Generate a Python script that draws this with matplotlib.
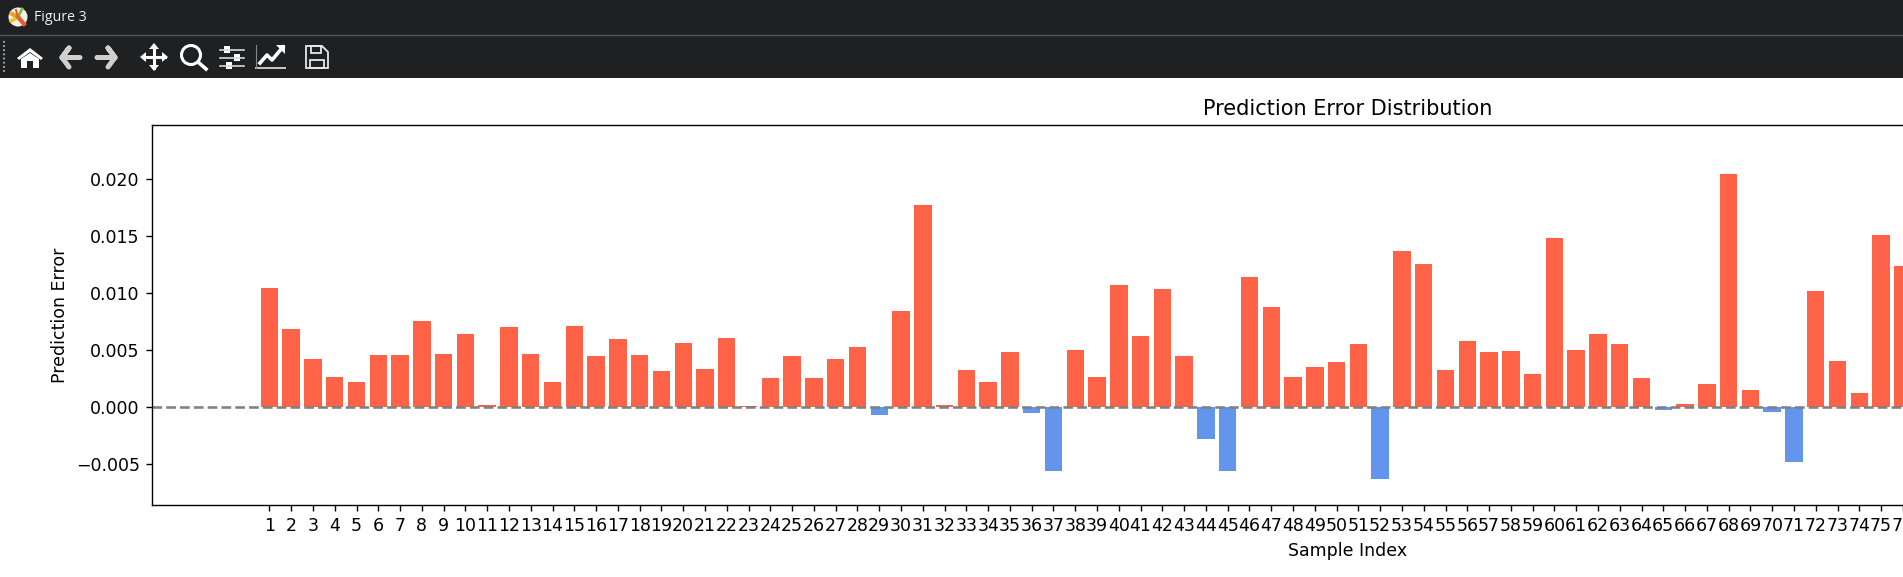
import matplotlib
matplotlib.use('Agg')
import matplotlib.pyplot as plt
from matplotlib.patches import Circle, Polygon, Rectangle

W, H = 1903, 577

# sample 1..76, the rest of the axes runs off the right of the window
samples = list(range(1, 77))
errors = [
    0.01047, 0.00688, 0.00423, 0.00268, 0.00223, 0.00459, 0.00459, 0.00759, 0.00469, 0.00643,
    0.00019, 0.00704, 0.00469, 0.00223, 0.00714, 0.00452, 0.00601, 0.00459, 0.00319, 0.00565,
    0.00336, 0.00609, 0.00012, 0.00257, 0.00451, 0.00257, 0.00424, 0.00530, -0.00072, 0.00846,
    0.01776, 0.00020, 0.00328, 0.00222, 0.00486, -0.00055, -0.00564, 0.00503, 0.00266, 0.01074,
    0.00626, 0.01039, 0.00451, -0.00283, -0.00564, 0.01144, 0.00881, 0.00266, 0.00354, 0.00398,
    0.00556, -0.00634, 0.01372, 0.01258, 0.00328, 0.00582, 0.00486, 0.00494, 0.00293, 0.01486,
    0.00503, 0.00644, 0.00556, 0.00257, -0.00028, 0.00029, 0.00205, 0.02048, 0.00152, -0.00046,
    -0.00485, 0.01021, 0.00407, 0.00126, 0.01513, 0.01241,
]
yticks = [-0.005, 0.0, 0.005, 0.010, 0.015, 0.020]

bar_colors = ['tomato' if e >= 0 else 'cornflowerblue' for e in errors]

fig = plt.figure(figsize=(W / 100, H / 100), dpi=100, facecolor='white')

# axes is wider than the window, same as the cropped screenshot
ax = fig.add_axes([152 / W, 1 - 505 / H, 2391 / W, (505 - 125) / H])
ax.bar(samples, errors, color=bar_colors, width=0.8)
ax.axhline(0, color='gray', linestyle='--', linewidth=1.875)
ax.set_xlim(-4.39, 105.39)
ax.set_ylim(-0.00859, 0.02476)
ax.set_xticks(samples)
ax.set_xticklabels([str(s) for s in samples])
ax.set_yticks(yticks)
ax.tick_params(labelsize=12.5, width=1.0, length=4.4, pad=4.4)
for s in ax.spines.values():
    s.set_linewidth(1.0)
ax.set_xlabel('Sample Index', fontsize=12.5, labelpad=5)
ax.set_ylabel('Prediction Error', fontsize=12.5, labelpad=5)
ax.set_title('Prediction Error Distribution', fontsize=15, pad=7.5)

# window chrome, in pixel coordinates
ui = fig.add_axes([0, 0, 1, 1], zorder=5)
ui.set_xlim(0, W)
ui.set_ylim(H, 0)
ui.axis('off')
ui.patch.set_alpha(0)

dark = '#1f2022'
icon = '#ffffff'
ui.add_patch(Rectangle((0, 0), W, 78, color=dark, lw=0))
ui.plot([0, W], [35, 35], color='#55575a', lw=1)
ui.text(34, 17.5, 'Figure 3', color='#f0f0f0', fontsize=10.2, family='Open Sans', va='center')

# logo
ui.add_patch(Circle((18, 17), 9.5, color='#f4f1ea', lw=0))
ui.plot([18, 12], [17, 14], color='#f0a020', lw=3)
ui.plot([18, 11], [17, 21], color='#f0c030', lw=2.5)
ui.plot([18, 24], [17, 24], color='#e0602a', lw=3)
ui.plot([18, 22], [17, 9], color='#8ab840', lw=2)
ui.plot([18, 16], [17, 10], color='#e0602a', lw=1.5)

# toolbar grip
ui.plot([4, 4], [41, 72], color='#c8c8c8', lw=1.2, linestyle=(0, (1, 1.5)))

# home
ui.add_patch(Polygon([(17, 58), (30, 48), (43, 58), (41, 60), (30, 52), (19, 60)], color=icon, lw=0))
ui.add_patch(Polygon([(21, 59), (30, 53), (39, 59), (39, 68), (33, 68), (33, 61), (27, 61), (27, 68), (21, 68)],
                     color=icon, lw=0))
# back / forward
ui.plot([80, 62, 69, 62, 69], [57.5, 57.5, 48, 57.5, 67], color='#cfcfcf', lw=3.6, solid_capstyle='round')
ui.plot([97, 115, 108, 115, 108], [57.5, 57.5, 48, 57.5, 67], color='#cfcfcf', lw=3.6, solid_capstyle='round')
# move
ui.plot([143, 165], [57, 57], color=icon, lw=2.2)
ui.plot([154, 154], [46, 68], color=icon, lw=2.2)
for tri in ([(140, 57), (146, 52), (146, 62)], [(168, 57), (162, 52), (162, 62)],
            [(154, 43), (149, 49), (159, 49)], [(154, 71), (149, 65), (159, 65)]):
    ui.add_patch(Polygon(tri, color=icon, lw=0))
# zoom
ui.add_patch(Circle((191, 55), 9.5, fill=False, ec=icon, lw=2.2))
ui.plot([198, 206], [62, 69], color=icon, lw=2.6)
# sliders
for y, x in [(49.5, 227), (57.5, 237), (65.5, 229)]:
    ui.plot([220, 244], [y, y], color='#d8d8d8', lw=1.2)
    ui.add_patch(Rectangle((x - 3, y - 3.5), 6, 7, color=icon, lw=0))
# chart
ui.plot([256, 285], [68, 68], color='#c8c8c8', lw=1.4)
ui.plot([256, 256], [45, 68], color='#888888', lw=0.8)
ui.plot([260, 267, 272, 283], [63, 55, 60, 47], color=icon, lw=2.6)
ui.add_patch(Polygon([(276, 45), (285, 45), (285, 54)], color=icon, lw=0))
# save
ui.add_patch(Polygon([(306, 46), (322, 46), (328, 52), (328, 68), (306, 68)], fill=False, ec='#e8e8e8', lw=1.3))
ui.add_patch(Rectangle((311, 46), 10, 7, fill=False, ec='#e8e8e8', lw=1.3))
ui.add_patch(Rectangle((310, 60), 14, 8, fill=False, ec='#e8e8e8', lw=1.3))

fig.savefig('out.png', dpi=100, facecolor='white')
